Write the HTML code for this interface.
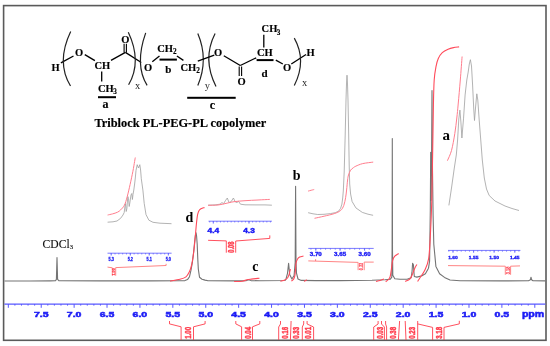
<!DOCTYPE html>
<html><head><meta charset="utf-8"><title>Triblock PL-PEG-PL copolymer 1H NMR</title>
<style>html,body{margin:0;padding:0;background:#fff;}body{width:550px;height:346px;overflow:hidden;}svg{display:block;}</style>
</head><body>
<svg width="550" height="346" viewBox="0 0 550 346">
<rect x="3.6" y="5.6" width="542.4" height="334.7" fill="none" stroke="#5a5a5a" stroke-width="1.6"/>
<text x="55.7" y="71" font-family="'Liberation Serif', 'Times New Roman', serif" font-size="10.5" font-weight="bold" fill="#000" stroke="#000" stroke-width="0.15" text-anchor="middle" >H</text>
<line x1="60.9" y1="62.9" x2="73.5" y2="56.0" stroke="#000" stroke-width="1.3"/>
<text x="79.2" y="55.8" font-family="'Liberation Serif', 'Times New Roman', serif" font-size="10.5" font-weight="bold" fill="#000" stroke="#000" stroke-width="0.15" text-anchor="middle" >O</text>
<line x1="84.8" y1="54.6" x2="94.9" y2="60.6" stroke="#000" stroke-width="1.3"/>
<text x="102.3" y="68.7" font-family="'Liberation Serif', 'Times New Roman', serif" font-size="10.5" font-weight="bold" fill="#000" stroke="#000" stroke-width="0.15" text-anchor="middle" >CH</text>
<line x1="111.0" y1="60.4" x2="125.4" y2="52.4" stroke="#000" stroke-width="1.3"/>
<line x1="124.1" y1="43.8" x2="124.1" y2="52.4" stroke="#000" stroke-width="1.1"/>
<line x1="126.4" y1="43.8" x2="126.4" y2="52.4" stroke="#000" stroke-width="1.1"/>
<text x="125.4" y="42.7" font-family="'Liberation Serif', 'Times New Roman', serif" font-size="10.5" font-weight="bold" fill="#000" stroke="#000" stroke-width="0.15" text-anchor="middle" >O</text>
<line x1="125.4" y1="52.4" x2="141.3" y2="62.5" stroke="#000" stroke-width="1.3"/>
<line x1="101.7" y1="71.5" x2="101.7" y2="81.6" stroke="#000" stroke-width="1.3"/>
<text x="98.0" y="91.7" font-family="'Liberation Serif', 'Times New Roman', serif" font-size="10.5" font-weight="bold" fill="#000" stroke="#000" stroke-width="0.15" text-anchor="start" >CH</text>
<text x="113.2" y="94.2" font-family="'Liberation Serif', 'Times New Roman', serif" font-size="7.2" font-weight="bold" fill="#000" stroke="#000" stroke-width="0.15" text-anchor="start" >3</text>
<rect x="98" y="96.2" width="18" height="2" fill="#000"/>
<text x="105.6" y="108.1" font-family="'Liberation Serif', 'Times New Roman', serif" font-size="12" font-weight="bold" fill="#000" stroke="#000" stroke-width="0.15" text-anchor="middle" >a</text>
<path d="M70.7,31.5 Q56.0,62.25 70.5,86.0" fill="none" stroke="#222" stroke-width="1.2"/>
<path d="M128.3,32.2 Q142.15000000000003,61.5 128.6,84.8" fill="none" stroke="#222" stroke-width="1.2"/>
<text x="137.7" y="88.9" font-family="'Liberation Serif', 'Times New Roman', serif" font-size="10.5" font-weight="normal" fill="#222" stroke="#222" stroke-width="0" text-anchor="middle" >x</text>
<path d="M145.7,32.9 Q134.40000000000003,64.85 147.1,85.4" fill="none" stroke="#222" stroke-width="1.2"/>
<text x="148.0" y="70.5" font-family="'Liberation Serif', 'Times New Roman', serif" font-size="10.5" font-weight="bold" fill="#000" stroke="#000" stroke-width="0.15" text-anchor="middle" >O</text>
<line x1="152.3" y1="61.8" x2="159.5" y2="56.0" stroke="#000" stroke-width="1.3"/>
<text x="157.2" y="51.7" font-family="'Liberation Serif', 'Times New Roman', serif" font-size="10.5" font-weight="bold" fill="#000" stroke="#000" stroke-width="0.15" text-anchor="start" >CH</text>
<text x="173.0" y="54.2" font-family="'Liberation Serif', 'Times New Roman', serif" font-size="7.2" font-weight="bold" fill="#000" stroke="#000" stroke-width="0.15" text-anchor="start" >2</text>
<rect x="159.5" y="58.6" width="17.4" height="2" fill="#000"/>
<line x1="176.9" y1="56.0" x2="183.4" y2="60.4" stroke="#000" stroke-width="1.3"/>
<text x="168.2" y="73.4" font-family="'Liberation Serif', 'Times New Roman', serif" font-size="11" font-weight="bold" fill="#000" stroke="#000" stroke-width="0.15" text-anchor="middle" >b</text>
<text x="180.5" y="70.5" font-family="'Liberation Serif', 'Times New Roman', serif" font-size="10.5" font-weight="bold" fill="#000" stroke="#000" stroke-width="0.15" text-anchor="start" >CH</text>
<text x="196.3" y="73.0" font-family="'Liberation Serif', 'Times New Roman', serif" font-size="7.2" font-weight="bold" fill="#000" stroke="#000" stroke-width="0.15" text-anchor="start" >2</text>
<path d="M197.8,33.5 Q208.8,59.5 197.8,85.5" fill="none" stroke="#222" stroke-width="1.2"/>
<text x="207.4" y="88.6" font-family="'Liberation Serif', 'Times New Roman', serif" font-size="10.5" font-weight="normal" fill="#333" stroke="#333" stroke-width="0" text-anchor="middle" >y</text>
<rect x="187.2" y="96.8" width="48.5" height="2" fill="#000"/>
<text x="212.5" y="109.3" font-family="'Liberation Serif', 'Times New Roman', serif" font-size="12" font-weight="bold" fill="#000" stroke="#000" stroke-width="0.15" text-anchor="middle" >c</text>
<path d="M215.1,33.5 Q202.05,59.05 216.0,86.4" fill="none" stroke="#222" stroke-width="1.2"/>
<line x1="197.8" y1="61.2" x2="214.3" y2="55.1" stroke="#000" stroke-width="1.3"/>
<text x="218.2" y="56.0" font-family="'Liberation Serif', 'Times New Roman', serif" font-size="10.5" font-weight="bold" fill="#000" stroke="#000" stroke-width="0.15" text-anchor="middle" >O</text>
<line x1="223.8" y1="55.7" x2="240.3" y2="65.5" stroke="#000" stroke-width="1.3"/>
<line x1="239.2" y1="66.4" x2="239.2" y2="76.0" stroke="#000" stroke-width="1.1"/>
<line x1="241.6" y1="66.4" x2="241.6" y2="76.0" stroke="#000" stroke-width="1.1"/>
<text x="241.6" y="85.1" font-family="'Liberation Serif', 'Times New Roman', serif" font-size="10.5" font-weight="bold" fill="#000" stroke="#000" stroke-width="0.15" text-anchor="middle" >O</text>
<line x1="240.3" y1="65.5" x2="256.2" y2="57.8" stroke="#000" stroke-width="1.3"/>
<text x="264.8" y="56.2" font-family="'Liberation Serif', 'Times New Roman', serif" font-size="10.5" font-weight="bold" fill="#000" stroke="#000" stroke-width="0.15" text-anchor="middle" >CH</text>
<rect x="256.6" y="59.1" width="16.9" height="2" fill="#000"/>
<line x1="263.8" y1="34.7" x2="263.8" y2="47.4" stroke="#000" stroke-width="1.3"/>
<text x="261.6" y="32.3" font-family="'Liberation Serif', 'Times New Roman', serif" font-size="10.5" font-weight="bold" fill="#000" stroke="#000" stroke-width="0.15" text-anchor="start" >CH</text>
<text x="276.8" y="34.8" font-family="'Liberation Serif', 'Times New Roman', serif" font-size="7.2" font-weight="bold" fill="#000" stroke="#000" stroke-width="0.15" text-anchor="start" >3</text>
<text x="264.6" y="77.4" font-family="'Liberation Serif', 'Times New Roman', serif" font-size="11" font-weight="bold" fill="#000" stroke="#000" stroke-width="0.15" text-anchor="middle" >d</text>
<line x1="275.8" y1="60.1" x2="282.8" y2="64.0" stroke="#000" stroke-width="1.3"/>
<text x="287.0" y="70.5" font-family="'Liberation Serif', 'Times New Roman', serif" font-size="10.5" font-weight="bold" fill="#000" stroke="#000" stroke-width="0.15" text-anchor="middle" >O</text>
<line x1="291.3" y1="64.0" x2="306.0" y2="54.5" stroke="#000" stroke-width="1.3"/>
<text x="310.7" y="55.5" font-family="'Liberation Serif', 'Times New Roman', serif" font-size="10.5" font-weight="bold" fill="#000" stroke="#000" stroke-width="0.15" text-anchor="middle" >H</text>
<path d="M294.3,38.1 Q306.90000000000003,60.60000000000001 294.3,85.5" fill="none" stroke="#222" stroke-width="1.2"/>
<text x="304.7" y="85.5" font-family="'Liberation Serif', 'Times New Roman', serif" font-size="10.5" font-weight="normal" fill="#222" stroke="#222" stroke-width="0" text-anchor="middle" >x</text>
<text x="94.4" y="127.2" font-family="'Liberation Serif', 'Times New Roman', serif" font-size="12.4" font-weight="bold" fill="#000" stroke="#000" stroke-width="0.15" text-anchor="start" >Triblock PL-PEG-PL copolymer</text>
<path transform="translate(0,0.2)" d="M4.50,280.80 L30.00,280.80 L50.00,280.70 L55.50,280.60 L56.40,279.20 L56.75,266.00 L57.00,257.40 L57.25,266.00 L57.60,279.20 L58.80,280.50 L100.00,280.70 L150.00,280.70 L180.00,280.60 L185.00,280.40 L187.50,279.40 L189.50,276.50 L191.00,270.00 L192.40,262.00 L193.60,252.00 L194.60,242.00 L195.30,236.00 L196.00,232.50 L196.60,236.00 L197.20,244.00 L197.80,259.00 L198.30,268.80 L199.50,277.00 L202.00,279.00 L205.00,279.90 L208.00,280.60 L235.00,280.70 L246.00,280.50 L248.50,279.60 L251.00,280.40 L260.00,280.60 L285.00,280.30 L285.90,279.10 L287.50,273.10 L288.60,263.20 L289.70,274.20 L291.90,278.80 L294.10,275.30 L295.20,262.00 L295.60,186.00 L296.00,262.00 L296.50,273.00 L298.00,278.80 L301.30,280.20 L316.00,280.40 L340.00,280.40 L372.00,280.00 L385.00,279.50 L390.20,279.10 L391.80,277.00 L392.10,250.00 L392.30,138.30 L392.50,250.00 L392.80,275.00 L394.80,278.60 L400.00,279.10 L407.20,279.10 L411.10,277.60 L412.00,272.00 L412.60,263.20 L413.40,264.50 L414.30,276.30 L416.90,276.90 L422.00,275.60 L425.40,273.50 L428.50,268.00 L429.60,261.00 L430.30,210.00 L430.70,152.00 L431.10,200.00 L431.50,170.00 L432.00,90.40 L432.50,170.00 L433.10,215.00 L433.80,244.00 L435.90,266.20 L439.60,273.50 L444.50,277.20 L450.00,279.80 L460.00,280.60 L500.00,280.70 L528.50,280.60 L530.40,279.60 L531.00,277.00 L531.60,279.60 L533.00,280.60 L545.50,280.70" fill="none" stroke="#747474" stroke-width="1.1" stroke-linejoin="round"/>
<path d="M170.00,281.00 C171.67,280.72 177.33,280.00 180.00,279.30 C182.67,278.60 184.42,278.10 186.00,276.80 C187.58,275.50 188.58,273.38 189.50,271.50 C190.42,269.62 190.88,268.08 191.50,265.50 C192.12,262.92 192.72,259.25 193.20,256.00 C193.68,252.75 194.02,249.67 194.40,246.00 C194.78,242.33 195.15,237.83 195.50,234.00 C195.85,230.17 196.15,226.22 196.50,223.00 C196.85,219.78 197.10,216.90 197.60,214.70 C198.10,212.50 198.35,211.02 199.50,209.80 C200.65,208.58 203.67,207.80 204.50,207.40" fill="none" stroke="#ff4b5b" stroke-width="1.1"/>
<path d="M234.10,281.50 C235.47,281.45 240.18,281.48 242.30,281.20 C244.42,280.92 245.28,280.15 246.80,279.80 C248.32,279.45 249.28,279.37 251.40,279.10 C253.52,278.83 258.15,278.35 259.50,278.20" fill="none" stroke="#ff4b5b" stroke-width="1.1"/>
<path d="M280.40,281.30 C281.13,281.07 283.62,280.45 284.80,279.90 C285.98,279.35 286.80,278.87 287.50,278.00 C288.20,277.13 288.57,275.98 289.00,274.70 C289.43,273.42 289.83,271.22 290.10,270.30 C290.37,269.38 290.52,269.38 290.60,269.20" fill="none" stroke="#ff4b5b" stroke-width="1.1"/>
<path d="M291.40,281.00 C291.77,280.68 293.02,280.05 293.60,279.10 C294.18,278.15 294.57,277.03 294.90,275.30 C295.23,273.57 295.42,270.72 295.60,268.70 C295.78,266.68 295.70,264.77 296.00,263.20 C296.30,261.63 296.80,260.32 297.40,259.30 C298.00,258.28 298.58,257.65 299.60,257.10 C300.62,256.55 302.85,256.18 303.50,256.00" fill="none" stroke="#ff4b5b" stroke-width="1.1"/>
<path d="M304.00,281.30 C304.28,281.17 305.23,280.77 305.70,280.50 C306.17,280.23 306.62,279.83 306.80,279.70" fill="none" stroke="#ff4b5b" stroke-width="1.1"/>
<path d="M376.00,281.50 C376.67,281.33 378.67,280.92 380.00,280.50 C381.33,280.08 383.33,279.25 384.00,279.00" fill="none" stroke="#ff4b5b" stroke-width="1.1"/>
<path d="M385.70,281.70 C386.17,281.33 387.75,280.40 388.50,279.50 C389.25,278.60 389.70,278.15 390.20,276.30 C390.70,274.45 391.10,271.02 391.50,268.40 C391.90,265.78 392.05,262.65 392.60,260.60 C393.15,258.55 393.78,257.28 394.80,256.10 C395.82,254.92 398.05,253.93 398.70,253.50" fill="none" stroke="#ff4b5b" stroke-width="1.1"/>
<path d="M405.20,281.50 C405.97,281.10 408.60,280.30 409.80,279.10 C411.00,277.90 411.75,275.65 412.40,274.30 C413.05,272.95 413.27,272.08 413.70,271.00 C414.13,269.92 414.47,268.88 415.00,267.80 C415.53,266.72 416.58,265.05 416.90,264.50" fill="none" stroke="#ff4b5b" stroke-width="1.1"/>
<path d="M417.60,281.50 C418.00,280.88 418.78,279.73 420.00,277.80 C421.22,275.87 423.47,273.07 424.90,269.90 C426.33,266.73 427.70,264.32 428.60,258.80 C429.50,253.28 429.77,246.60 430.30,236.80 C430.83,227.00 431.40,214.47 431.80,200.00 C432.20,185.53 432.43,165.83 432.70,150.00 C432.97,134.17 433.15,116.67 433.40,105.00 C433.65,93.33 433.77,86.40 434.20,80.00 C434.63,73.60 435.32,70.18 436.00,66.60 C436.68,63.02 437.25,60.82 438.30,58.50 C439.35,56.18 440.67,54.25 442.30,52.70 C443.93,51.15 446.23,50.05 448.10,49.20 C449.97,48.35 451.67,47.98 453.50,47.60 C455.33,47.22 458.17,47.02 459.10,46.90" fill="none" stroke="#ff4b5b" stroke-width="1.1"/>
<line x1="4.4" y1="304.1" x2="545.4" y2="304.1" stroke="#5858ff" stroke-width="1.1"/>
<line x1="534.80" y1="304" x2="534.80" y2="307.8" stroke="#5858ff" stroke-width="1"/>
<line x1="528.22" y1="304" x2="528.22" y2="305.6" stroke="#5858ff" stroke-width="1"/>
<line x1="521.64" y1="304" x2="521.64" y2="305.6" stroke="#5858ff" stroke-width="1"/>
<line x1="515.06" y1="304" x2="515.06" y2="305.6" stroke="#5858ff" stroke-width="1"/>
<line x1="508.48" y1="304" x2="508.48" y2="305.6" stroke="#5858ff" stroke-width="1"/>
<line x1="501.89" y1="304" x2="501.89" y2="307.8" stroke="#5858ff" stroke-width="1"/>
<line x1="495.31" y1="304" x2="495.31" y2="305.6" stroke="#5858ff" stroke-width="1"/>
<line x1="488.73" y1="304" x2="488.73" y2="305.6" stroke="#5858ff" stroke-width="1"/>
<line x1="482.15" y1="304" x2="482.15" y2="305.6" stroke="#5858ff" stroke-width="1"/>
<line x1="475.57" y1="304" x2="475.57" y2="305.6" stroke="#5858ff" stroke-width="1"/>
<line x1="468.99" y1="304" x2="468.99" y2="307.8" stroke="#5858ff" stroke-width="1"/>
<line x1="462.41" y1="304" x2="462.41" y2="305.6" stroke="#5858ff" stroke-width="1"/>
<line x1="455.83" y1="304" x2="455.83" y2="305.6" stroke="#5858ff" stroke-width="1"/>
<line x1="449.25" y1="304" x2="449.25" y2="305.6" stroke="#5858ff" stroke-width="1"/>
<line x1="442.67" y1="304" x2="442.67" y2="305.6" stroke="#5858ff" stroke-width="1"/>
<line x1="436.08" y1="304" x2="436.08" y2="307.8" stroke="#5858ff" stroke-width="1"/>
<line x1="429.50" y1="304" x2="429.50" y2="305.6" stroke="#5858ff" stroke-width="1"/>
<line x1="422.92" y1="304" x2="422.92" y2="305.6" stroke="#5858ff" stroke-width="1"/>
<line x1="416.34" y1="304" x2="416.34" y2="305.6" stroke="#5858ff" stroke-width="1"/>
<line x1="409.76" y1="304" x2="409.76" y2="305.6" stroke="#5858ff" stroke-width="1"/>
<line x1="403.18" y1="304" x2="403.18" y2="307.8" stroke="#5858ff" stroke-width="1"/>
<line x1="396.60" y1="304" x2="396.60" y2="305.6" stroke="#5858ff" stroke-width="1"/>
<line x1="390.02" y1="304" x2="390.02" y2="305.6" stroke="#5858ff" stroke-width="1"/>
<line x1="383.44" y1="304" x2="383.44" y2="305.6" stroke="#5858ff" stroke-width="1"/>
<line x1="376.86" y1="304" x2="376.86" y2="305.6" stroke="#5858ff" stroke-width="1"/>
<line x1="370.27" y1="304" x2="370.27" y2="307.8" stroke="#5858ff" stroke-width="1"/>
<line x1="363.69" y1="304" x2="363.69" y2="305.6" stroke="#5858ff" stroke-width="1"/>
<line x1="357.11" y1="304" x2="357.11" y2="305.6" stroke="#5858ff" stroke-width="1"/>
<line x1="350.53" y1="304" x2="350.53" y2="305.6" stroke="#5858ff" stroke-width="1"/>
<line x1="343.95" y1="304" x2="343.95" y2="305.6" stroke="#5858ff" stroke-width="1"/>
<line x1="337.37" y1="304" x2="337.37" y2="307.8" stroke="#5858ff" stroke-width="1"/>
<line x1="330.79" y1="304" x2="330.79" y2="305.6" stroke="#5858ff" stroke-width="1"/>
<line x1="324.21" y1="304" x2="324.21" y2="305.6" stroke="#5858ff" stroke-width="1"/>
<line x1="317.63" y1="304" x2="317.63" y2="305.6" stroke="#5858ff" stroke-width="1"/>
<line x1="311.05" y1="304" x2="311.05" y2="305.6" stroke="#5858ff" stroke-width="1"/>
<line x1="304.46" y1="304" x2="304.46" y2="307.8" stroke="#5858ff" stroke-width="1"/>
<line x1="297.88" y1="304" x2="297.88" y2="305.6" stroke="#5858ff" stroke-width="1"/>
<line x1="291.30" y1="304" x2="291.30" y2="305.6" stroke="#5858ff" stroke-width="1"/>
<line x1="284.72" y1="304" x2="284.72" y2="305.6" stroke="#5858ff" stroke-width="1"/>
<line x1="278.14" y1="304" x2="278.14" y2="305.6" stroke="#5858ff" stroke-width="1"/>
<line x1="271.56" y1="304" x2="271.56" y2="307.8" stroke="#5858ff" stroke-width="1"/>
<line x1="264.98" y1="304" x2="264.98" y2="305.6" stroke="#5858ff" stroke-width="1"/>
<line x1="258.40" y1="304" x2="258.40" y2="305.6" stroke="#5858ff" stroke-width="1"/>
<line x1="251.82" y1="304" x2="251.82" y2="305.6" stroke="#5858ff" stroke-width="1"/>
<line x1="245.24" y1="304" x2="245.24" y2="305.6" stroke="#5858ff" stroke-width="1"/>
<line x1="238.65" y1="304" x2="238.65" y2="307.8" stroke="#5858ff" stroke-width="1"/>
<line x1="232.07" y1="304" x2="232.07" y2="305.6" stroke="#5858ff" stroke-width="1"/>
<line x1="225.49" y1="304" x2="225.49" y2="305.6" stroke="#5858ff" stroke-width="1"/>
<line x1="218.91" y1="304" x2="218.91" y2="305.6" stroke="#5858ff" stroke-width="1"/>
<line x1="212.33" y1="304" x2="212.33" y2="305.6" stroke="#5858ff" stroke-width="1"/>
<line x1="205.75" y1="304" x2="205.75" y2="307.8" stroke="#5858ff" stroke-width="1"/>
<line x1="199.17" y1="304" x2="199.17" y2="305.6" stroke="#5858ff" stroke-width="1"/>
<line x1="192.59" y1="304" x2="192.59" y2="305.6" stroke="#5858ff" stroke-width="1"/>
<line x1="186.01" y1="304" x2="186.01" y2="305.6" stroke="#5858ff" stroke-width="1"/>
<line x1="179.43" y1="304" x2="179.43" y2="305.6" stroke="#5858ff" stroke-width="1"/>
<line x1="172.84" y1="304" x2="172.84" y2="307.8" stroke="#5858ff" stroke-width="1"/>
<line x1="166.26" y1="304" x2="166.26" y2="305.6" stroke="#5858ff" stroke-width="1"/>
<line x1="159.68" y1="304" x2="159.68" y2="305.6" stroke="#5858ff" stroke-width="1"/>
<line x1="153.10" y1="304" x2="153.10" y2="305.6" stroke="#5858ff" stroke-width="1"/>
<line x1="146.52" y1="304" x2="146.52" y2="305.6" stroke="#5858ff" stroke-width="1"/>
<line x1="139.94" y1="304" x2="139.94" y2="307.8" stroke="#5858ff" stroke-width="1"/>
<line x1="133.36" y1="304" x2="133.36" y2="305.6" stroke="#5858ff" stroke-width="1"/>
<line x1="126.78" y1="304" x2="126.78" y2="305.6" stroke="#5858ff" stroke-width="1"/>
<line x1="120.20" y1="304" x2="120.20" y2="305.6" stroke="#5858ff" stroke-width="1"/>
<line x1="113.62" y1="304" x2="113.62" y2="305.6" stroke="#5858ff" stroke-width="1"/>
<line x1="107.03" y1="304" x2="107.03" y2="307.8" stroke="#5858ff" stroke-width="1"/>
<line x1="100.45" y1="304" x2="100.45" y2="305.6" stroke="#5858ff" stroke-width="1"/>
<line x1="93.87" y1="304" x2="93.87" y2="305.6" stroke="#5858ff" stroke-width="1"/>
<line x1="87.29" y1="304" x2="87.29" y2="305.6" stroke="#5858ff" stroke-width="1"/>
<line x1="80.71" y1="304" x2="80.71" y2="305.6" stroke="#5858ff" stroke-width="1"/>
<line x1="74.13" y1="304" x2="74.13" y2="307.8" stroke="#5858ff" stroke-width="1"/>
<line x1="67.55" y1="304" x2="67.55" y2="305.6" stroke="#5858ff" stroke-width="1"/>
<line x1="60.97" y1="304" x2="60.97" y2="305.6" stroke="#5858ff" stroke-width="1"/>
<line x1="54.39" y1="304" x2="54.39" y2="305.6" stroke="#5858ff" stroke-width="1"/>
<line x1="47.81" y1="304" x2="47.81" y2="305.6" stroke="#5858ff" stroke-width="1"/>
<line x1="41.22" y1="304" x2="41.22" y2="307.8" stroke="#5858ff" stroke-width="1"/>
<line x1="34.64" y1="304" x2="34.64" y2="305.6" stroke="#5858ff" stroke-width="1"/>
<line x1="28.06" y1="304" x2="28.06" y2="305.6" stroke="#5858ff" stroke-width="1"/>
<line x1="21.48" y1="304" x2="21.48" y2="305.6" stroke="#5858ff" stroke-width="1"/>
<line x1="14.90" y1="304" x2="14.90" y2="305.6" stroke="#5858ff" stroke-width="1"/>
<line x1="8.32" y1="304" x2="8.32" y2="307.8" stroke="#5858ff" stroke-width="1"/>
<text x="501.89" y="317.0" font-family="'Liberation Sans', Arial, sans-serif" font-weight="bold" font-size="7.9" fill="#1c1cf5" stroke="#1c1cf5" stroke-width="0.55" text-anchor="middle" textLength="14.6" lengthAdjust="spacingAndGlyphs">0.5</text>
<text x="468.99" y="317.0" font-family="'Liberation Sans', Arial, sans-serif" font-weight="bold" font-size="7.9" fill="#1c1cf5" stroke="#1c1cf5" stroke-width="0.55" text-anchor="middle" textLength="14.6" lengthAdjust="spacingAndGlyphs">1.0</text>
<text x="436.08" y="317.0" font-family="'Liberation Sans', Arial, sans-serif" font-weight="bold" font-size="7.9" fill="#1c1cf5" stroke="#1c1cf5" stroke-width="0.55" text-anchor="middle" textLength="14.6" lengthAdjust="spacingAndGlyphs">1.5</text>
<text x="403.18" y="317.0" font-family="'Liberation Sans', Arial, sans-serif" font-weight="bold" font-size="7.9" fill="#1c1cf5" stroke="#1c1cf5" stroke-width="0.55" text-anchor="middle" textLength="14.6" lengthAdjust="spacingAndGlyphs">2.0</text>
<text x="370.27" y="317.0" font-family="'Liberation Sans', Arial, sans-serif" font-weight="bold" font-size="7.9" fill="#1c1cf5" stroke="#1c1cf5" stroke-width="0.55" text-anchor="middle" textLength="14.6" lengthAdjust="spacingAndGlyphs">2.5</text>
<text x="337.37" y="317.0" font-family="'Liberation Sans', Arial, sans-serif" font-weight="bold" font-size="7.9" fill="#1c1cf5" stroke="#1c1cf5" stroke-width="0.55" text-anchor="middle" textLength="14.6" lengthAdjust="spacingAndGlyphs">3.0</text>
<text x="304.46" y="317.0" font-family="'Liberation Sans', Arial, sans-serif" font-weight="bold" font-size="7.9" fill="#1c1cf5" stroke="#1c1cf5" stroke-width="0.55" text-anchor="middle" textLength="14.6" lengthAdjust="spacingAndGlyphs">3.5</text>
<text x="271.56" y="317.0" font-family="'Liberation Sans', Arial, sans-serif" font-weight="bold" font-size="7.9" fill="#1c1cf5" stroke="#1c1cf5" stroke-width="0.55" text-anchor="middle" textLength="14.6" lengthAdjust="spacingAndGlyphs">4.0</text>
<text x="238.65" y="317.0" font-family="'Liberation Sans', Arial, sans-serif" font-weight="bold" font-size="7.9" fill="#1c1cf5" stroke="#1c1cf5" stroke-width="0.55" text-anchor="middle" textLength="14.6" lengthAdjust="spacingAndGlyphs">4.5</text>
<text x="205.75" y="317.0" font-family="'Liberation Sans', Arial, sans-serif" font-weight="bold" font-size="7.9" fill="#1c1cf5" stroke="#1c1cf5" stroke-width="0.55" text-anchor="middle" textLength="14.6" lengthAdjust="spacingAndGlyphs">5.0</text>
<text x="172.84" y="317.0" font-family="'Liberation Sans', Arial, sans-serif" font-weight="bold" font-size="7.9" fill="#1c1cf5" stroke="#1c1cf5" stroke-width="0.55" text-anchor="middle" textLength="14.6" lengthAdjust="spacingAndGlyphs">5.5</text>
<text x="139.94" y="317.0" font-family="'Liberation Sans', Arial, sans-serif" font-weight="bold" font-size="7.9" fill="#1c1cf5" stroke="#1c1cf5" stroke-width="0.55" text-anchor="middle" textLength="14.6" lengthAdjust="spacingAndGlyphs">6.0</text>
<text x="107.03" y="317.0" font-family="'Liberation Sans', Arial, sans-serif" font-weight="bold" font-size="7.9" fill="#1c1cf5" stroke="#1c1cf5" stroke-width="0.55" text-anchor="middle" textLength="14.6" lengthAdjust="spacingAndGlyphs">6.5</text>
<text x="74.13" y="317.0" font-family="'Liberation Sans', Arial, sans-serif" font-weight="bold" font-size="7.9" fill="#1c1cf5" stroke="#1c1cf5" stroke-width="0.55" text-anchor="middle" textLength="14.6" lengthAdjust="spacingAndGlyphs">7.0</text>
<text x="41.22" y="317.0" font-family="'Liberation Sans', Arial, sans-serif" font-weight="bold" font-size="7.9" fill="#1c1cf5" stroke="#1c1cf5" stroke-width="0.55" text-anchor="middle" textLength="14.6" lengthAdjust="spacingAndGlyphs">7.5</text>
<text x="521.9" y="316.7" font-family="'Liberation Sans', Arial, sans-serif" font-weight="bold" font-size="9.8" fill="#1c1cf5" stroke="#1c1cf5" stroke-width="0.55" textLength="22.4" lengthAdjust="spacingAndGlyphs">ppm</text>
<path d="M169.50,321.00 L169.50,323.90 L181.10,326.80 L181.10,340.00" fill="none" stroke="#ff3d4d" stroke-width="0.9"/>
<path d="M205.10,321.00 L205.10,323.90 L193.50,326.80 L193.50,340.00" fill="none" stroke="#ff3d4d" stroke-width="0.9"/>
<text transform="translate(187.2,332.8) rotate(-90)" x="0" y="0" font-family="'Liberation Sans', Arial, sans-serif" font-weight="bold" font-size="9.4" fill="#ff3d4d" stroke="#ff3d4d" stroke-width="0.5" text-anchor="middle" dominant-baseline="central" textLength="12.0" lengthAdjust="spacingAndGlyphs">1.00</text>
<path d="M235.80,321.00 L235.80,323.90 L241.60,326.80 L241.60,340.00" fill="none" stroke="#ff3d4d" stroke-width="0.9"/>
<path d="M259.80,321.00 L259.80,323.90 L252.50,326.80 L252.50,340.00" fill="none" stroke="#ff3d4d" stroke-width="0.9"/>
<text transform="translate(247.0,332.8) rotate(-90)" x="0" y="0" font-family="'Liberation Sans', Arial, sans-serif" font-weight="bold" font-size="9.4" fill="#ff3d4d" stroke="#ff3d4d" stroke-width="0.5" text-anchor="middle" dominant-baseline="central" textLength="12.0" lengthAdjust="spacingAndGlyphs">0.04</text>
<path d="M280.50,321.00 L280.50,324.00 L278.70,327.00 L278.70,340.00" fill="none" stroke="#ff3d4d" stroke-width="0.9"/>
<path d="M291.10,321.00 L290.40,340.00" fill="none" stroke="#ff3d4d" stroke-width="0.9"/>
<text transform="translate(284.6,332.8) rotate(-90)" x="0" y="0" font-family="'Liberation Sans', Arial, sans-serif" font-weight="bold" font-size="9.4" fill="#ff3d4d" stroke="#ff3d4d" stroke-width="0.5" text-anchor="middle" dominant-baseline="central" textLength="12.0" lengthAdjust="spacingAndGlyphs">0.16</text>
<path d="M303.70,321.00 L303.70,324.00 L302.30,327.00 L302.30,340.00" fill="none" stroke="#ff3d4d" stroke-width="0.9"/>
<text transform="translate(295.8,332.8) rotate(-90)" x="0" y="0" font-family="'Liberation Sans', Arial, sans-serif" font-weight="bold" font-size="9.4" fill="#ff3d4d" stroke="#ff3d4d" stroke-width="0.5" text-anchor="middle" dominant-baseline="central" textLength="12.0" lengthAdjust="spacingAndGlyphs">0.33</text>
<path d="M307.10,321.00 L307.10,324.00 L313.60,327.00 L313.60,340.00" fill="none" stroke="#ff3d4d" stroke-width="0.9"/>
<text transform="translate(307.7,332.8) rotate(-90)" x="0" y="0" font-family="'Liberation Sans', Arial, sans-serif" font-weight="bold" font-size="9.4" fill="#ff3d4d" stroke="#ff3d4d" stroke-width="0.5" text-anchor="middle" dominant-baseline="central" textLength="12.0" lengthAdjust="spacingAndGlyphs">0.01</text>
<path d="M378.10,321.00 L378.10,324.00 L373.70,327.00 L373.70,340.00" fill="none" stroke="#ff3d4d" stroke-width="0.9"/>
<path d="M381.50,321.00 L381.50,324.00 L384.40,327.00 L384.40,340.00" fill="none" stroke="#ff3d4d" stroke-width="0.9"/>
<text transform="translate(379.1,332.8) rotate(-90)" x="0" y="0" font-family="'Liberation Sans', Arial, sans-serif" font-weight="bold" font-size="9.4" fill="#ff3d4d" stroke="#ff3d4d" stroke-width="0.5" text-anchor="middle" dominant-baseline="central" textLength="12.0" lengthAdjust="spacingAndGlyphs">0.03</text>
<path d="M385.60,321.00 L385.60,324.00 L386.60,327.00 L386.60,340.00" fill="none" stroke="#ff3d4d" stroke-width="0.9"/>
<path d="M399.60,321.00 L398.40,340.00" fill="none" stroke="#ff3d4d" stroke-width="0.9"/>
<text transform="translate(392.5,332.8) rotate(-90)" x="0" y="0" font-family="'Liberation Sans', Arial, sans-serif" font-weight="bold" font-size="9.4" fill="#ff3d4d" stroke="#ff3d4d" stroke-width="0.5" text-anchor="middle" dominant-baseline="central" textLength="12.0" lengthAdjust="spacingAndGlyphs">0.38</text>
<path d="M405.20,321.00 L406.00,340.00" fill="none" stroke="#ff3d4d" stroke-width="0.9"/>
<path d="M417.70,321.00 L417.70,340.00" fill="none" stroke="#ff3d4d" stroke-width="0.9"/>
<text transform="translate(411.6,332.8) rotate(-90)" x="0" y="0" font-family="'Liberation Sans', Arial, sans-serif" font-weight="bold" font-size="9.4" fill="#ff3d4d" stroke="#ff3d4d" stroke-width="0.5" text-anchor="middle" dominant-baseline="central" textLength="12.0" lengthAdjust="spacingAndGlyphs">0.23</text>
<path d="M417.70,323.90 L432.60,327.40 L432.60,340.00" fill="none" stroke="#ff3d4d" stroke-width="0.9"/>
<path d="M459.30,320.80 L459.30,323.90 L444.00,327.40 L444.00,340.00" fill="none" stroke="#ff3d4d" stroke-width="0.9"/>
<text transform="translate(438.4,332.8) rotate(-90)" x="0" y="0" font-family="'Liberation Sans', Arial, sans-serif" font-weight="bold" font-size="9.4" fill="#ff3d4d" stroke="#ff3d4d" stroke-width="0.5" text-anchor="middle" dominant-baseline="central" textLength="12.0" lengthAdjust="spacingAndGlyphs">3.18</text>
<path d="M107.60,222.20 L113.00,221.80 L117.00,221.00 L120.60,218.30 L123.00,215.00 L124.20,212.50 L125.00,206.00 L125.60,203.50 L126.20,211.50 L126.90,208.50 L127.80,196.50 L128.50,198.50 L129.20,206.50 L129.80,203.00 L131.00,195.00 L131.80,193.50 L132.40,199.50 L133.00,194.50 L133.80,190.00 L134.60,184.00 L135.30,178.00 L136.00,170.50 L137.20,164.70 L138.50,168.00 L139.80,164.70 L140.60,170.00 L141.30,178.80 L142.90,190.10 L144.20,203.30 L146.00,214.60 L148.90,220.20 L153.00,222.30 L160.00,223.20 L171.50,223.70" fill="none" stroke="#9f9f9f" stroke-width="0.8" stroke-linejoin="round"/>
<path d="M107.60,215.00 C108.42,214.82 110.85,214.37 112.50,213.90 C114.15,213.43 116.15,212.87 117.50,212.20 C118.85,211.53 119.45,211.07 120.60,209.90 C121.75,208.73 123.30,207.40 124.40,205.20 C125.50,203.00 126.25,200.15 127.20,196.70 C128.15,193.25 129.15,188.73 130.10,184.50 C131.05,180.27 132.15,175.13 132.90,171.30 C133.65,167.47 134.20,163.80 134.60,161.50 C135.00,159.20 135.18,158.17 135.30,157.50" fill="none" stroke="#ff7d8d" stroke-width="1.0"/>
<line x1="107.5" y1="253.2" x2="171.6" y2="253.2" stroke="#7a7aff" stroke-width="1.0"/>
<line x1="111.20" y1="253.2" x2="111.20" y2="254.39999999999998" stroke="#5858ff" stroke-width="0.8"/>
<line x1="115.02" y1="253.2" x2="115.02" y2="254.39999999999998" stroke="#5858ff" stroke-width="0.8"/>
<line x1="118.84" y1="253.2" x2="118.84" y2="254.39999999999998" stroke="#5858ff" stroke-width="0.8"/>
<line x1="122.66" y1="253.2" x2="122.66" y2="254.39999999999998" stroke="#5858ff" stroke-width="0.8"/>
<line x1="126.48" y1="253.2" x2="126.48" y2="254.39999999999998" stroke="#5858ff" stroke-width="0.8"/>
<line x1="130.30" y1="253.2" x2="130.30" y2="254.39999999999998" stroke="#5858ff" stroke-width="0.8"/>
<line x1="134.12" y1="253.2" x2="134.12" y2="254.39999999999998" stroke="#5858ff" stroke-width="0.8"/>
<line x1="137.94" y1="253.2" x2="137.94" y2="254.39999999999998" stroke="#5858ff" stroke-width="0.8"/>
<line x1="141.76" y1="253.2" x2="141.76" y2="254.39999999999998" stroke="#5858ff" stroke-width="0.8"/>
<line x1="145.58" y1="253.2" x2="145.58" y2="254.39999999999998" stroke="#5858ff" stroke-width="0.8"/>
<line x1="149.40" y1="253.2" x2="149.40" y2="254.39999999999998" stroke="#5858ff" stroke-width="0.8"/>
<line x1="153.22" y1="253.2" x2="153.22" y2="254.39999999999998" stroke="#5858ff" stroke-width="0.8"/>
<line x1="157.04" y1="253.2" x2="157.04" y2="254.39999999999998" stroke="#5858ff" stroke-width="0.8"/>
<line x1="160.86" y1="253.2" x2="160.86" y2="254.39999999999998" stroke="#5858ff" stroke-width="0.8"/>
<line x1="164.68" y1="253.2" x2="164.68" y2="254.39999999999998" stroke="#5858ff" stroke-width="0.8"/>
<line x1="168.50" y1="253.2" x2="168.50" y2="254.39999999999998" stroke="#5858ff" stroke-width="0.8"/>
<line x1="111.20" y1="253.2" x2="111.20" y2="255.6" stroke="#5858ff" stroke-width="0.8"/>
<line x1="130.30" y1="253.2" x2="130.30" y2="255.6" stroke="#5858ff" stroke-width="0.8"/>
<line x1="149.20" y1="253.2" x2="149.20" y2="255.6" stroke="#5858ff" stroke-width="0.8"/>
<line x1="168.30" y1="253.2" x2="168.30" y2="255.6" stroke="#5858ff" stroke-width="0.8"/>
<text x="111.20" y="260.9" font-family="'Liberation Sans', Arial, sans-serif" font-weight="bold" font-size="4.6" fill="#1c1cf5" stroke="#1c1cf5" stroke-width="0.32" text-anchor="middle" textLength="5.2" lengthAdjust="spacingAndGlyphs">5.3</text>
<text x="130.30" y="260.9" font-family="'Liberation Sans', Arial, sans-serif" font-weight="bold" font-size="4.6" fill="#1c1cf5" stroke="#1c1cf5" stroke-width="0.32" text-anchor="middle" textLength="5.2" lengthAdjust="spacingAndGlyphs">5.2</text>
<text x="149.20" y="260.9" font-family="'Liberation Sans', Arial, sans-serif" font-weight="bold" font-size="4.6" fill="#1c1cf5" stroke="#1c1cf5" stroke-width="0.32" text-anchor="middle" textLength="5.2" lengthAdjust="spacingAndGlyphs">5.1</text>
<text x="168.30" y="260.9" font-family="'Liberation Sans', Arial, sans-serif" font-weight="bold" font-size="4.6" fill="#1c1cf5" stroke="#1c1cf5" stroke-width="0.32" text-anchor="middle" textLength="5.2" lengthAdjust="spacingAndGlyphs">5.0</text>
<path d="M107.50,267.10 L112.30,267.80 L112.30,275.70" fill="none" stroke="#ff8585" stroke-width="1.0"/>
<path d="M115.70,275.70 L115.70,267.60 L166.10,265.50 L166.10,263.80" fill="none" stroke="#ff8585" stroke-width="1.0"/>
<text transform="translate(113.8,271.9) rotate(-90)" font-family="'Liberation Sans', Arial, sans-serif" font-weight="bold" font-size="4.2" fill="#ff3d4d" stroke="#ff3d4d" stroke-width="0.2" text-anchor="middle" dominant-baseline="central" textLength="7.4" lengthAdjust="spacingAndGlyphs">1.00</text>
<path d="M208.10,205.20 L215.00,204.90 L220.00,204.20 L222.00,202.50 L223.50,203.80 L225.50,200.50 L227.30,198.00 L229.00,202.50 L231.00,201.80 L233.40,198.00 L235.30,202.00 L237.00,202.50 L238.50,201.30 L240.50,204.20 L245.00,204.80 L255.00,204.90 L265.00,204.90 L271.90,205.20" fill="none" stroke="#9f9f9f" stroke-width="0.8" stroke-linejoin="round"/>
<path d="M208.10,205.30 C209.75,205.25 215.02,205.32 218.00,205.00 C220.98,204.68 223.33,203.95 226.00,203.40 C228.67,202.85 230.83,202.15 234.00,201.70 C237.17,201.25 241.00,200.98 245.00,200.70 C249.00,200.42 253.87,200.22 258.00,200.00 C262.13,199.78 267.83,199.50 269.80,199.40" fill="none" stroke="#ff7d8d" stroke-width="1.0"/>
<line x1="208.5" y1="221.2" x2="271.9" y2="221.2" stroke="#7a7aff" stroke-width="1.0"/>
<line x1="209.73" y1="221.2" x2="209.73" y2="222.39999999999998" stroke="#5858ff" stroke-width="0.8"/>
<line x1="213.30" y1="221.2" x2="213.30" y2="222.39999999999998" stroke="#5858ff" stroke-width="0.8"/>
<line x1="216.87" y1="221.2" x2="216.87" y2="222.39999999999998" stroke="#5858ff" stroke-width="0.8"/>
<line x1="220.44" y1="221.2" x2="220.44" y2="222.39999999999998" stroke="#5858ff" stroke-width="0.8"/>
<line x1="224.01" y1="221.2" x2="224.01" y2="222.39999999999998" stroke="#5858ff" stroke-width="0.8"/>
<line x1="227.58" y1="221.2" x2="227.58" y2="222.39999999999998" stroke="#5858ff" stroke-width="0.8"/>
<line x1="231.15" y1="221.2" x2="231.15" y2="222.39999999999998" stroke="#5858ff" stroke-width="0.8"/>
<line x1="234.72" y1="221.2" x2="234.72" y2="222.39999999999998" stroke="#5858ff" stroke-width="0.8"/>
<line x1="238.29" y1="221.2" x2="238.29" y2="222.39999999999998" stroke="#5858ff" stroke-width="0.8"/>
<line x1="241.86" y1="221.2" x2="241.86" y2="222.39999999999998" stroke="#5858ff" stroke-width="0.8"/>
<line x1="245.43" y1="221.2" x2="245.43" y2="222.39999999999998" stroke="#5858ff" stroke-width="0.8"/>
<line x1="249.00" y1="221.2" x2="249.00" y2="222.39999999999998" stroke="#5858ff" stroke-width="0.8"/>
<line x1="252.57" y1="221.2" x2="252.57" y2="222.39999999999998" stroke="#5858ff" stroke-width="0.8"/>
<line x1="256.14" y1="221.2" x2="256.14" y2="222.39999999999998" stroke="#5858ff" stroke-width="0.8"/>
<line x1="259.71" y1="221.2" x2="259.71" y2="222.39999999999998" stroke="#5858ff" stroke-width="0.8"/>
<line x1="263.28" y1="221.2" x2="263.28" y2="222.39999999999998" stroke="#5858ff" stroke-width="0.8"/>
<line x1="266.85" y1="221.2" x2="266.85" y2="222.39999999999998" stroke="#5858ff" stroke-width="0.8"/>
<line x1="270.42" y1="221.2" x2="270.42" y2="222.39999999999998" stroke="#5858ff" stroke-width="0.8"/>
<line x1="213.30" y1="221.2" x2="213.30" y2="223.6" stroke="#5858ff" stroke-width="0.8"/>
<line x1="249.00" y1="221.2" x2="249.00" y2="223.6" stroke="#5858ff" stroke-width="0.8"/>
<text x="213.30" y="232.6" font-family="'Liberation Sans', Arial, sans-serif" font-weight="bold" font-size="7.0" fill="#1c1cf5" stroke="#1c1cf5" stroke-width="0.49" text-anchor="middle" textLength="11.5" lengthAdjust="spacingAndGlyphs">4.4</text>
<text x="249.00" y="232.6" font-family="'Liberation Sans', Arial, sans-serif" font-weight="bold" font-size="7.0" fill="#1c1cf5" stroke="#1c1cf5" stroke-width="0.49" text-anchor="middle" textLength="11.5" lengthAdjust="spacingAndGlyphs">4.3</text>
<path d="M208.10,240.30 L226.30,240.90 L226.30,252.70" fill="none" stroke="#ff3d4d" stroke-width="0.9"/>
<path d="M235.70,252.70 L235.70,241.00 L269.80,238.40 L269.80,235.40" fill="none" stroke="#ff3d4d" stroke-width="0.9"/>
<text transform="translate(230.9,247.2) rotate(-90)" font-family="'Liberation Sans', Arial, sans-serif" font-weight="bold" font-size="8.4" fill="#ff3d4d" stroke="#ff3d4d" stroke-width="0.45" text-anchor="middle" dominant-baseline="central" textLength="11.2" lengthAdjust="spacingAndGlyphs">0.08</text>
<path d="M308.10,212.70 L313.00,213.80 L317.70,214.50 L324.00,214.30 L330.50,213.60 L335.50,212.60 L338.70,211.10 L340.60,208.30 L341.90,204.10 L342.70,198.00 L343.30,191.00 L344.20,172.00 L345.20,135.00 L346.00,100.00 L346.50,84.00 L347.00,75.20 L347.50,84.00 L348.00,100.00 L348.60,130.00 L349.20,165.00 L349.70,184.00 L350.60,194.00 L352.10,201.50 L355.90,207.90 L362.30,212.40 L368.00,214.20 L373.10,215.30" fill="none" stroke="#9f9f9f" stroke-width="0.8" stroke-linejoin="round"/>
<path d="M314.50,218.30 C316.10,217.95 320.80,216.98 324.10,216.20 C327.40,215.42 331.55,214.55 334.30,213.60 C337.05,212.65 339.02,211.87 340.60,210.50 C342.18,209.13 342.97,207.53 343.80,205.40 C344.63,203.27 345.13,200.27 345.60,197.70 C346.07,195.13 346.27,192.95 346.60,190.00 C346.93,187.05 347.28,182.50 347.60,180.00 C347.92,177.50 348.00,176.63 348.50,175.00 C349.00,173.37 349.85,171.37 350.60,170.20 C351.35,169.03 352.13,168.67 353.00,168.00 C353.87,167.33 354.18,166.93 355.80,166.20 C357.42,165.47 359.80,164.28 362.70,163.60 C365.60,162.92 371.45,162.35 373.20,162.10" fill="none" stroke="#ff7d8d" stroke-width="1.0"/>
<path d="M308.10,191.10 C308.58,190.97 309.98,190.57 311.00,190.30 C312.02,190.03 313.67,189.63 314.20,189.50" fill="none" stroke="#ff7d8d" stroke-width="1.0"/>
<line x1="308.3" y1="248.4" x2="373.7" y2="248.4" stroke="#7a7aff" stroke-width="1.0"/>
<line x1="310.94" y1="248.4" x2="310.94" y2="249.6" stroke="#5858ff" stroke-width="0.8"/>
<line x1="315.80" y1="248.4" x2="315.80" y2="249.6" stroke="#5858ff" stroke-width="0.8"/>
<line x1="320.66" y1="248.4" x2="320.66" y2="249.6" stroke="#5858ff" stroke-width="0.8"/>
<line x1="325.52" y1="248.4" x2="325.52" y2="249.6" stroke="#5858ff" stroke-width="0.8"/>
<line x1="330.38" y1="248.4" x2="330.38" y2="249.6" stroke="#5858ff" stroke-width="0.8"/>
<line x1="335.24" y1="248.4" x2="335.24" y2="249.6" stroke="#5858ff" stroke-width="0.8"/>
<line x1="340.10" y1="248.4" x2="340.10" y2="249.6" stroke="#5858ff" stroke-width="0.8"/>
<line x1="344.96" y1="248.4" x2="344.96" y2="249.6" stroke="#5858ff" stroke-width="0.8"/>
<line x1="349.82" y1="248.4" x2="349.82" y2="249.6" stroke="#5858ff" stroke-width="0.8"/>
<line x1="354.68" y1="248.4" x2="354.68" y2="249.6" stroke="#5858ff" stroke-width="0.8"/>
<line x1="359.54" y1="248.4" x2="359.54" y2="249.6" stroke="#5858ff" stroke-width="0.8"/>
<line x1="364.40" y1="248.4" x2="364.40" y2="249.6" stroke="#5858ff" stroke-width="0.8"/>
<line x1="369.26" y1="248.4" x2="369.26" y2="249.6" stroke="#5858ff" stroke-width="0.8"/>
<line x1="315.80" y1="248.4" x2="315.80" y2="250.8" stroke="#5858ff" stroke-width="0.8"/>
<line x1="340.10" y1="248.4" x2="340.10" y2="250.8" stroke="#5858ff" stroke-width="0.8"/>
<line x1="364.60" y1="248.4" x2="364.60" y2="250.8" stroke="#5858ff" stroke-width="0.8"/>
<text x="315.80" y="256.0" font-family="'Liberation Sans', Arial, sans-serif" font-weight="bold" font-size="4.7" fill="#1c1cf5" stroke="#1c1cf5" stroke-width="0.33" text-anchor="middle" textLength="12.0" lengthAdjust="spacingAndGlyphs">3.70</text>
<text x="340.10" y="256.0" font-family="'Liberation Sans', Arial, sans-serif" font-weight="bold" font-size="4.7" fill="#1c1cf5" stroke="#1c1cf5" stroke-width="0.33" text-anchor="middle" textLength="12.0" lengthAdjust="spacingAndGlyphs">3.65</text>
<text x="364.60" y="256.0" font-family="'Liberation Sans', Arial, sans-serif" font-weight="bold" font-size="4.7" fill="#1c1cf5" stroke="#1c1cf5" stroke-width="0.33" text-anchor="middle" textLength="12.0" lengthAdjust="spacingAndGlyphs">3.60</text>
<path d="M308.30,260.90 L358.10,262.40 L358.10,270.20" fill="none" stroke="#ff8585" stroke-width="1.0"/>
<path d="M364.20,270.20 L364.20,262.10 L373.70,262.10" fill="none" stroke="#ff8585" stroke-width="1.0"/>
<text transform="translate(361.0,266.5) rotate(-90)" font-family="'Liberation Sans', Arial, sans-serif" font-weight="bold" font-size="6.0" fill="#ff3d4d" stroke="#ff3d4d" stroke-width="0.15" text-anchor="middle" dominant-baseline="central" textLength="7.4" lengthAdjust="spacingAndGlyphs">0.33</text>
<line x1="315.6" y1="260.9" x2="315.6" y2="259.2" stroke="#ff3d4d" stroke-width="0.7"/>
<path d="M448.90,205.40 L451.50,188.00 L454.30,168.00 L456.30,155.00 L457.60,140.00 L458.80,119.00 L459.90,110.10 L460.90,122.00 L461.90,138.00 L462.90,126.00 L463.50,118.90 L465.10,95.00 L466.80,80.00 L468.20,72.00 L469.30,64.00 L470.40,59.70 L471.50,66.00 L472.60,85.00 L473.70,108.00 L474.50,120.50 L475.50,108.00 L476.80,93.80 L477.80,100.00 L479.20,120.00 L480.60,138.00 L482.30,160.00 L484.30,178.00 L486.50,189.00 L489.20,195.50 L495.00,201.00 L505.00,206.00 L512.00,208.50 L519.00,210.50" fill="none" stroke="#9f9f9f" stroke-width="0.8" stroke-linejoin="round"/>
<path d="M447.40,160.70 C448.08,159.00 450.27,155.02 451.50,150.50 C452.73,145.98 453.92,139.02 454.80,133.60 C455.68,128.18 456.23,122.93 456.80,118.00 C457.37,113.07 457.62,110.33 458.20,104.00 C458.78,97.67 459.65,87.92 460.30,80.00 C460.95,72.08 461.80,60.42 462.10,56.50" fill="none" stroke="#ff7d8d" stroke-width="1.0"/>
<line x1="448.0" y1="250.4" x2="520.4" y2="250.4" stroke="#7a7aff" stroke-width="1.0"/>
<line x1="448.88" y1="250.4" x2="448.88" y2="251.6" stroke="#5858ff" stroke-width="0.8"/>
<line x1="453.00" y1="250.4" x2="453.00" y2="251.6" stroke="#5858ff" stroke-width="0.8"/>
<line x1="457.12" y1="250.4" x2="457.12" y2="251.6" stroke="#5858ff" stroke-width="0.8"/>
<line x1="461.24" y1="250.4" x2="461.24" y2="251.6" stroke="#5858ff" stroke-width="0.8"/>
<line x1="465.36" y1="250.4" x2="465.36" y2="251.6" stroke="#5858ff" stroke-width="0.8"/>
<line x1="469.48" y1="250.4" x2="469.48" y2="251.6" stroke="#5858ff" stroke-width="0.8"/>
<line x1="473.60" y1="250.4" x2="473.60" y2="251.6" stroke="#5858ff" stroke-width="0.8"/>
<line x1="477.72" y1="250.4" x2="477.72" y2="251.6" stroke="#5858ff" stroke-width="0.8"/>
<line x1="481.84" y1="250.4" x2="481.84" y2="251.6" stroke="#5858ff" stroke-width="0.8"/>
<line x1="485.96" y1="250.4" x2="485.96" y2="251.6" stroke="#5858ff" stroke-width="0.8"/>
<line x1="490.08" y1="250.4" x2="490.08" y2="251.6" stroke="#5858ff" stroke-width="0.8"/>
<line x1="494.20" y1="250.4" x2="494.20" y2="251.6" stroke="#5858ff" stroke-width="0.8"/>
<line x1="498.32" y1="250.4" x2="498.32" y2="251.6" stroke="#5858ff" stroke-width="0.8"/>
<line x1="502.44" y1="250.4" x2="502.44" y2="251.6" stroke="#5858ff" stroke-width="0.8"/>
<line x1="506.56" y1="250.4" x2="506.56" y2="251.6" stroke="#5858ff" stroke-width="0.8"/>
<line x1="510.68" y1="250.4" x2="510.68" y2="251.6" stroke="#5858ff" stroke-width="0.8"/>
<line x1="514.80" y1="250.4" x2="514.80" y2="251.6" stroke="#5858ff" stroke-width="0.8"/>
<line x1="518.92" y1="250.4" x2="518.92" y2="251.6" stroke="#5858ff" stroke-width="0.8"/>
<line x1="453.00" y1="250.4" x2="453.00" y2="252.8" stroke="#5858ff" stroke-width="0.8"/>
<line x1="473.60" y1="250.4" x2="473.60" y2="252.8" stroke="#5858ff" stroke-width="0.8"/>
<line x1="494.10" y1="250.4" x2="494.10" y2="252.8" stroke="#5858ff" stroke-width="0.8"/>
<line x1="514.80" y1="250.4" x2="514.80" y2="252.8" stroke="#5858ff" stroke-width="0.8"/>
<text x="453.00" y="259.0" font-family="'Liberation Sans', Arial, sans-serif" font-weight="bold" font-size="4.4" fill="#1c1cf5" stroke="#1c1cf5" stroke-width="0.31" text-anchor="middle" textLength="9.6" lengthAdjust="spacingAndGlyphs">1.60</text>
<text x="473.60" y="259.0" font-family="'Liberation Sans', Arial, sans-serif" font-weight="bold" font-size="4.4" fill="#1c1cf5" stroke="#1c1cf5" stroke-width="0.31" text-anchor="middle" textLength="9.6" lengthAdjust="spacingAndGlyphs">1.55</text>
<text x="494.10" y="259.0" font-family="'Liberation Sans', Arial, sans-serif" font-weight="bold" font-size="4.4" fill="#1c1cf5" stroke="#1c1cf5" stroke-width="0.31" text-anchor="middle" textLength="9.6" lengthAdjust="spacingAndGlyphs">1.50</text>
<text x="514.80" y="259.0" font-family="'Liberation Sans', Arial, sans-serif" font-weight="bold" font-size="4.4" fill="#1c1cf5" stroke="#1c1cf5" stroke-width="0.31" text-anchor="middle" textLength="9.6" lengthAdjust="spacingAndGlyphs">1.45</text>
<path d="M448.00,265.60 L505.30,266.20 L505.30,274.80" fill="none" stroke="#ff8585" stroke-width="1.0"/>
<path d="M510.60,274.80 L510.60,266.20 L520.00,265.90" fill="none" stroke="#ff8585" stroke-width="1.0"/>
<text transform="translate(507.9,270.5) rotate(-90)" font-family="'Liberation Sans', Arial, sans-serif" font-weight="bold" font-size="6.0" fill="#ff3d4d" stroke="#ff3d4d" stroke-width="0.15" text-anchor="middle" dominant-baseline="central" textLength="7.6" lengthAdjust="spacingAndGlyphs">3.18</text>
<text x="42.6" y="248.3" font-family="'Liberation Serif', 'Times New Roman', serif" font-size="11.6" fill="#111" stroke="#111" stroke-width="0.12">CDCl<tspan font-size="6.8" dy="0.9">3</tspan></text>
<text x="189.3" y="221.6" font-family="'Liberation Serif', 'Times New Roman', serif" font-weight="bold" font-size="14" fill="#000" text-anchor="middle">d</text>
<text x="255.4" y="270.5" font-family="'Liberation Serif', 'Times New Roman', serif" font-weight="bold" font-size="14" fill="#000" text-anchor="middle">c</text>
<text x="296.6" y="179.9" font-family="'Liberation Serif', 'Times New Roman', serif" font-weight="bold" font-size="14" fill="#000" text-anchor="middle">b</text>
<text x="446.2" y="140.0" font-family="'Liberation Serif', 'Times New Roman', serif" font-weight="bold" font-size="15" fill="#000" text-anchor="middle">a</text>
</svg>
</body></html>
